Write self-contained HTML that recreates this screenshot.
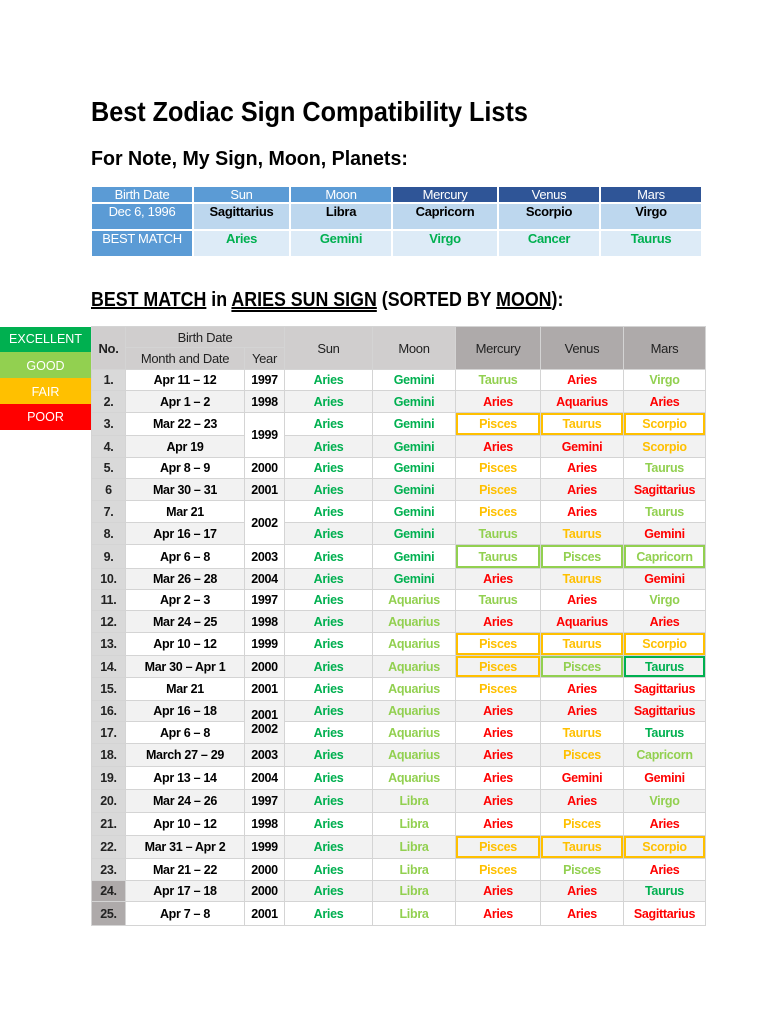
<!DOCTYPE html>
<html><head><meta charset="utf-8">
<style>
*{margin:0;padding:0;box-sizing:border-box}
body{width:768px;height:1024px;background:#fff;font-family:"Liberation Sans",sans-serif;position:relative;overflow:hidden;color:#000}
.t{position:absolute;left:91px;font-weight:bold;white-space:nowrap;transform-origin:0 0}
table{border-collapse:collapse;position:absolute;table-layout:fixed}
td{text-align:center;font-weight:bold;font-size:12.5px;letter-spacing:-0.3px;padding:0;overflow:hidden;white-space:nowrap}
#top td{border:2px solid #fff;height:17px;font-size:13px}
#big td{border:1px solid #d4d4d4}
#big tr.s td{background:#f2f2f2}
#big tr td.n{background:#d9d9d9;color:#222}
#big tr.h td{background:#d0cece;color:#222;font-size:13px}
#big tr.h td.dk{background:#aeaaaa}
.D{color:#00b050}.L{color:#92d050}.O{color:#ffc000}.R{color:#ff0000}
.bo{box-shadow:inset 0 0 0 2px #ffc000}
.bl{box-shadow:inset 0 0 0 2px #92d050}
.bd{box-shadow:inset 0 0 0 2px #00b050}
.leg{position:absolute;left:0;width:91px;color:#fff;font-size:12.5px;text-align:center}
</style></head><body>
<div class="t" style="top:96px;font-size:28px;transform:scaleX(0.9)">Best Zodiac Sign Compatibility Lists</div>
<div class="t" style="top:148px;font-size:20px;transform:scaleX(0.98)">For Note, My Sign, Moon, Planets:</div>

<table id="top" style="left:90px;top:185px;width:611px">
<colgroup><col style="width:102px"><col style="width:97px"><col style="width:102px"><col style="width:106px"><col style="width:102px"><col style="width:102px"></colgroup>
<tr style="color:#fff"><td style="background:#5b9bd5;font-weight:normal">Birth Date</td><td style="background:#5b9bd5;font-weight:normal">Sun</td><td style="background:#5b9bd5;font-weight:normal">Moon</td><td style="background:#2f5597;font-weight:normal">Mercury</td><td style="background:#2f5597;font-weight:normal">Venus</td><td style="background:#2f5597;font-weight:normal">Mars</td></tr>
<tr style="height:27px"><td style="background:#5b9bd5;color:#fff;font-weight:normal;vertical-align:top">Dec 6, 1996</td><td style="background:#bdd7ee;vertical-align:top">Sagittarius</td><td style="background:#bdd7ee;vertical-align:top">Libra</td><td style="background:#bdd7ee;vertical-align:top">Capricorn</td><td style="background:#bdd7ee;vertical-align:top">Scorpio</td><td style="background:#bdd7ee;vertical-align:top">Virgo</td></tr>
<tr style="height:27px"><td style="background:#5b9bd5;color:#fff;font-weight:normal;vertical-align:top">BEST MATCH</td><td class="D" style="background:#ddebf7;vertical-align:top">Aries</td><td class="D" style="background:#ddebf7;vertical-align:top">Gemini</td><td class="D" style="background:#ddebf7;vertical-align:top">Virgo</td><td class="D" style="background:#ddebf7;vertical-align:top">Cancer</td><td class="D" style="background:#ddebf7;vertical-align:top">Taurus</td></tr>
</table>

<div class="t" style="top:289px;font-size:20px;transform:scaleX(0.89)"><u>BEST MATCH</u> in <u style="text-decoration-style:double">ARIES SUN SIGN</u> (SORTED BY <u>MOON</u>):</div>

<div class="leg" style="top:327px;height:25px;line-height:25px;background:#00b050">EXCELLENT</div>
<div class="leg" style="top:352px;height:26px;line-height:28px;background:#92d050">GOOD</div>
<div class="leg" style="top:378px;height:26px;line-height:28px;background:#ffc000">FAIR</div>
<div class="leg" style="top:404px;height:26px;line-height:26px;background:#ff0000">POOR</div>

<table id="big" style="left:91px;top:326px;width:614px">
<colgroup><col style="width:34px"><col style="width:119px"><col style="width:40px"><col style="width:88px"><col style="width:83px"><col style="width:85px"><col style="width:83px"><col style="width:82px"></colgroup>
<tr class="h" style="height:21px"><td class="n" rowspan="2" style="background:#d0cece">No.</td><td colspan="2" style="font-weight:normal">Birth Date</td><td rowspan="2" style="font-weight:normal">Sun</td><td rowspan="2" style="font-weight:normal">Moon</td><td rowspan="2" class="dk" style="font-weight:normal">Mercury</td><td rowspan="2" class="dk" style="font-weight:normal">Venus</td><td rowspan="2" class="dk" style="font-weight:normal">Mars</td></tr>
<tr class="h" style="height:22px"><td style="font-weight:normal">Month and Date</td><td style="font-weight:normal">Year</td></tr>
<tr style="height:21px"><td class="n">1.</td><td>Apr 11 – 12</td><td>1997</td><td class="D">Aries</td><td class="D">Gemini</td><td class="L">Taurus</td><td class="R">Aries</td><td class="L">Virgo</td></tr>
<tr class="s" style="height:22px"><td class="n">2.</td><td>Apr 1 – 2</td><td>1998</td><td class="D">Aries</td><td class="D">Gemini</td><td class="R">Aries</td><td class="R">Aquarius</td><td class="R">Aries</td></tr>
<tr style="height:23px"><td class="n">3.</td><td>Mar 22 – 23</td><td rowspan="2" style="background:#fff">1999</td><td class="D">Aries</td><td class="D">Gemini</td><td class="O bo">Pisces</td><td class="O bo">Taurus</td><td class="O bo">Scorpio</td></tr>
<tr class="s" style="height:22px"><td class="n">4.</td><td>Apr 19</td><td class="D">Aries</td><td class="D">Gemini</td><td class="R">Aries</td><td class="R">Gemini</td><td class="O">Scorpio</td></tr>
<tr style="height:21px"><td class="n">5.</td><td>Apr 8 – 9</td><td>2000</td><td class="D">Aries</td><td class="D">Gemini</td><td class="O">Pisces</td><td class="R">Aries</td><td class="L">Taurus</td></tr>
<tr class="s" style="height:22px"><td class="n">6</td><td>Mar 30 – 31</td><td>2001</td><td class="D">Aries</td><td class="D">Gemini</td><td class="O">Pisces</td><td class="R">Aries</td><td class="R">Sagittarius</td></tr>
<tr style="height:22px"><td class="n">7.</td><td>Mar 21</td><td rowspan="2" style="background:#fff">2002</td><td class="D">Aries</td><td class="D">Gemini</td><td class="O">Pisces</td><td class="R">Aries</td><td class="L">Taurus</td></tr>
<tr class="s" style="height:22px"><td class="n">8.</td><td>Apr 16 – 17</td><td class="D">Aries</td><td class="D">Gemini</td><td class="L">Taurus</td><td class="O">Taurus</td><td class="R">Gemini</td></tr>
<tr style="height:24px"><td class="n">9.</td><td>Apr 6 – 8</td><td>2003</td><td class="D">Aries</td><td class="D">Gemini</td><td class="L bl">Taurus</td><td class="L bl">Pisces</td><td class="L bl">Capricorn</td></tr>
<tr class="s" style="height:21px"><td class="n">10.</td><td>Mar 26 – 28</td><td>2004</td><td class="D">Aries</td><td class="D">Gemini</td><td class="R">Aries</td><td class="O">Taurus</td><td class="R">Gemini</td></tr>
<tr style="height:21px"><td class="n">11.</td><td>Apr 2 – 3</td><td>1997</td><td class="D">Aries</td><td class="L">Aquarius</td><td class="L">Taurus</td><td class="R">Aries</td><td class="L">Virgo</td></tr>
<tr class="s" style="height:22px"><td class="n">12.</td><td>Mar 24 – 25</td><td>1998</td><td class="D">Aries</td><td class="L">Aquarius</td><td class="R">Aries</td><td class="R">Aquarius</td><td class="R">Aries</td></tr>
<tr style="height:23px"><td class="n">13.</td><td>Apr 10 – 12</td><td>1999</td><td class="D">Aries</td><td class="L">Aquarius</td><td class="O bo">Pisces</td><td class="O bo">Taurus</td><td class="O bo">Scorpio</td></tr>
<tr class="s" style="height:22px"><td class="n">14.</td><td>Mar 30 – Apr 1</td><td>2000</td><td class="D">Aries</td><td class="L">Aquarius</td><td class="O bo">Pisces</td><td class="L bl">Pisces</td><td class="D bd">Taurus</td></tr>
<tr style="height:23px"><td class="n">15.</td><td>Mar 21</td><td>2001</td><td class="D">Aries</td><td class="L">Aquarius</td><td class="O">Pisces</td><td class="R">Aries</td><td class="R">Sagittarius</td></tr>
<tr class="s" style="height:21px"><td class="n">16.</td><td>Apr 16 – 18</td><td rowspan="2" style="line-height:14px">2001<br>2002</td><td class="D">Aries</td><td class="L">Aquarius</td><td class="R">Aries</td><td class="R">Aries</td><td class="R">Sagittarius</td></tr>
<tr style="height:22px"><td class="n">17.</td><td>Apr 6 – 8</td><td class="D">Aries</td><td class="L">Aquarius</td><td class="R">Aries</td><td class="O">Taurus</td><td class="D">Taurus</td></tr>
<tr class="s" style="height:23px"><td class="n">18.</td><td>March 27 – 29</td><td>2003</td><td class="D">Aries</td><td class="L">Aquarius</td><td class="R">Aries</td><td class="O">Pisces</td><td class="L">Capricorn</td></tr>
<tr style="height:23px"><td class="n">19.</td><td>Apr 13 – 14</td><td>2004</td><td class="D">Aries</td><td class="L">Aquarius</td><td class="R">Aries</td><td class="R">Gemini</td><td class="R">Gemini</td></tr>
<tr class="s" style="height:23px"><td class="n">20.</td><td>Mar 24 – 26</td><td>1997</td><td class="D">Aries</td><td class="L">Libra</td><td class="R">Aries</td><td class="R">Aries</td><td class="L">Virgo</td></tr>
<tr style="height:23px"><td class="n">21.</td><td>Apr 10 – 12</td><td>1998</td><td class="D">Aries</td><td class="L">Libra</td><td class="R">Aries</td><td class="O">Pisces</td><td class="R">Aries</td></tr>
<tr class="s" style="height:23px"><td class="n">22.</td><td>Mar 31 – Apr 2</td><td>1999</td><td class="D">Aries</td><td class="L">Libra</td><td class="O bo">Pisces</td><td class="O bo">Taurus</td><td class="O bo">Scorpio</td></tr>
<tr style="height:22px"><td class="n">23.</td><td>Mar 21 – 22</td><td>2000</td><td class="D">Aries</td><td class="L">Libra</td><td class="O">Pisces</td><td class="L">Pisces</td><td class="R">Aries</td></tr>
<tr class="s" style="height:21px"><td class="n" style="background:#aeaaaa">24.</td><td>Apr 17 – 18</td><td>2000</td><td class="D">Aries</td><td class="L">Libra</td><td class="R">Aries</td><td class="R">Aries</td><td class="D">Taurus</td></tr>
<tr style="height:24px"><td class="n" style="background:#aeaaaa">25.</td><td>Apr 7 – 8</td><td>2001</td><td class="D">Aries</td><td class="L">Libra</td><td class="R">Aries</td><td class="R">Aries</td><td class="R">Sagittarius</td></tr>
</table>
</body></html>
